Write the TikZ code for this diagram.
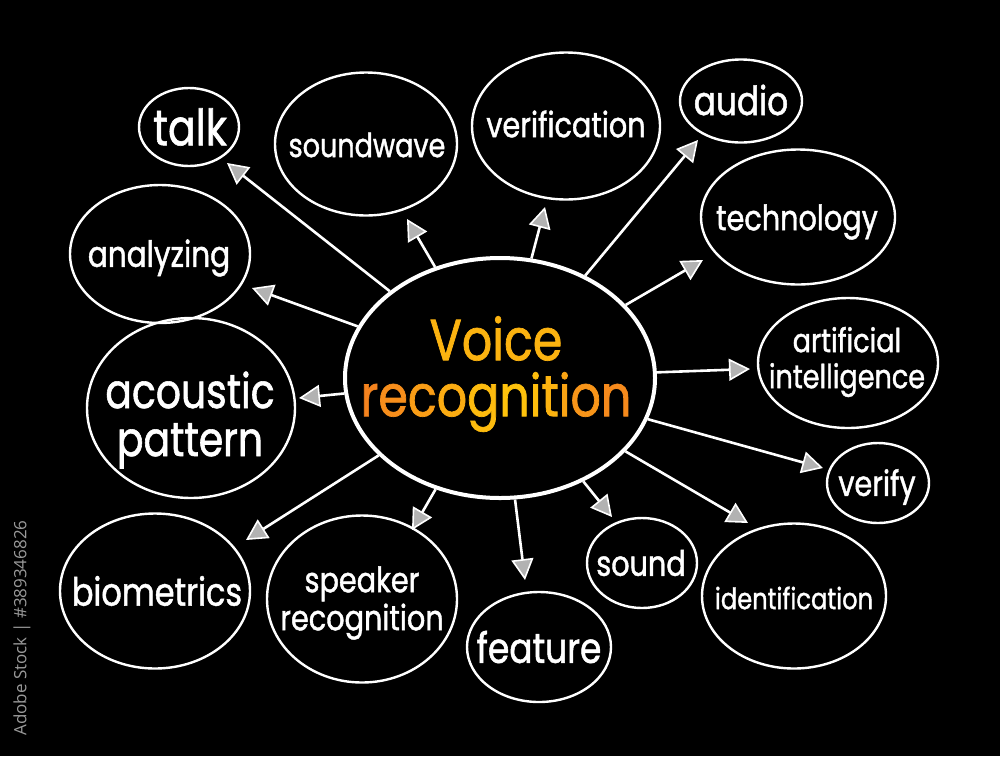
\documentclass[tikz,border=0pt]{standalone}
\usepackage{fontspec}
\setmainfont{Poppins}[FakeStretch=0.82,FakeBold=1.2]
\newfontfamily\wmfont{Open Sans}
\usetikzlibrary{shapes.geometric,arrows.meta}
\definecolor{Or}{HTML}{F47B20}
\definecolor{Ye}{HTML}{FFC60B}
\definecolor{wm}{HTML}{9A9A9A}
\newcommand\fs[1]{\fontsize{#1}{#1}\selectfont}
\begin{document}
\begin{tikzpicture}[x=1pt,y=-1pt,
  bub/.style={draw=white, line width=2.4pt, ellipse, inner sep=0pt},
  txt/.style={text=white, align=center, inner sep=0pt},
  arr/.style={draw=white, line width=2.6pt,
    -{Triangle[length=21pt,width=22pt,fill=gray!60,line width=1.6pt]}}]
\useasboundingbox (0,0) rectangle (1000,756);
\fill[black] (0,0) rectangle (1000,756);

% side text
\node[text=wm, rotate=90, inner sep=0pt, font=\wmfont\fontsize{17}{17}\selectfont] (stock) at (22,628) {Adobe Stock | \#389346826};

% central node
\node[bub, line width=4pt, minimum width=310, minimum height=240] (c) at (500,378) {};
\node[txt, font=\fontsize{58}{56}\selectfont, align=center] (ct) at (496,374)
  {\textcolor{Ye!75!Or}{Voice}\\
   \textcolor{Ye!10!Or}{r}\textcolor{Ye!25!Or}{e}\textcolor{Ye!45!Or}{c}\textcolor{Ye!65!Or}{o}\textcolor{Ye!85!Or}{g}\textcolor{Ye!95!Or}{n}\textcolor{Ye!90!Or}{i}\textcolor{Ye!75!Or}{t}\textcolor{Ye!55!Or}{i}\textcolor{Ye!35!Or}{o}\textcolor{Ye!20!Or}{n}};

% bubbles
\node[bub, minimum width=100, minimum height=78] (talk) at (189,127) {};
\node[txt, font=\fs{50}] (talk-t) at (190,127) {talk};

\node[bub, minimum width=182, minimum height=143] (soundwave) at (366,144) {};
\node[txt, font=\fs{33}] (soundwave-t) at (367,145) {soundwave};

\node[bub, minimum width=188, minimum height=147] (verification) at (566,126) {};
\node[txt, font=\fs{35}] (verification-t) at (566,124) {verification};

\node[bub, minimum width=122, minimum height=83] (audio) at (741,101) {};
\node[txt, font=\fs{40}] (audio-t) at (741,100) {audio};

\node[bub, minimum width=194, minimum height=135] (technology) at (798,217) {};
\node[txt, font=\fs{35}] (technology-t) at (797,222) {technology};

\node[bub, minimum width=180, minimum height=138] (analyzing) at (160,254) {};
\node[txt, font=\fs{36}] (analyzing-t) at (159,258) {analyzing};

\node[bub, minimum width=180, minimum height=130] (ai) at (848,363) {};
\node[txt, font=\fontsize{33}{36}\selectfont] (ai-t) at (847,362) {artificial\\intelligence};

\node[bub, minimum width=208, minimum height=180] (acoustic) at (191,408) {};
\node[txt, font=\fontsize{48}{48}\selectfont] (acoustic-t) at (190,420) {acoustic\\pattern};

\node[bub, minimum width=102, minimum height=80] (verify) at (878,483) {};
\node[txt, font=\fs{35}] (verify-t) at (877,487) {verify};

\node[bub, minimum width=190, minimum height=155] (biometrics) at (155,591) {};
\node[txt, font=\fs{39}] (biometrics-t) at (157,591) {biometrics};

\node[bub, minimum width=190, minimum height=167] (speaker) at (362,599) {};
\node[txt, font=\fontsize{35}{38}\selectfont] (speaker-t) at (362,603) {speaker\\recognition};

\node[bub, minimum width=144, minimum height=110] (feature) at (539,647) {};
\node[txt, font=\fs{42}] (feature-t) at (539,647) {feature};

\node[bub, minimum width=110, minimum height=90] (sound) at (642,563) {};
\node[txt, font=\fs{35}] (sound-t) at (641,563) {sound};

\node[bub, minimum width=184, minimum height=145] (identification) at (794,596) {};
\node[txt, font=\fs{29.5}] (identification-t) at (794,598) {identification};

% arrow tips
\coordinate (p-talk) at (227,163);
\coordinate (p-soundwave) at (407,219);
\coordinate (p-verification) at (545,207);
\coordinate (p-audio) at (698,140);
\coordinate (p-technology) at (703,260);
\coordinate (p-analyzing) at (252,288);
\coordinate (p-acoustic) at (299,398);
\coordinate (p-ai) at (750,369);
\coordinate (p-verify) at (823,468);
\coordinate (p-biometrics) at (246,540);
\coordinate (p-speaker) at (412,530);
\coordinate (p-feature) at (525,580);
\coordinate (p-sound) at (612,517);
\coordinate (p-identification) at (748,523);

\foreach \n in {talk,soundwave,verification,audio,technology,analyzing,acoustic,ai,verify,biometrics,speaker,feature,sound,identification}
  \draw[arr] (c) -- (p-\n);
\end{tikzpicture}
\end{document}
